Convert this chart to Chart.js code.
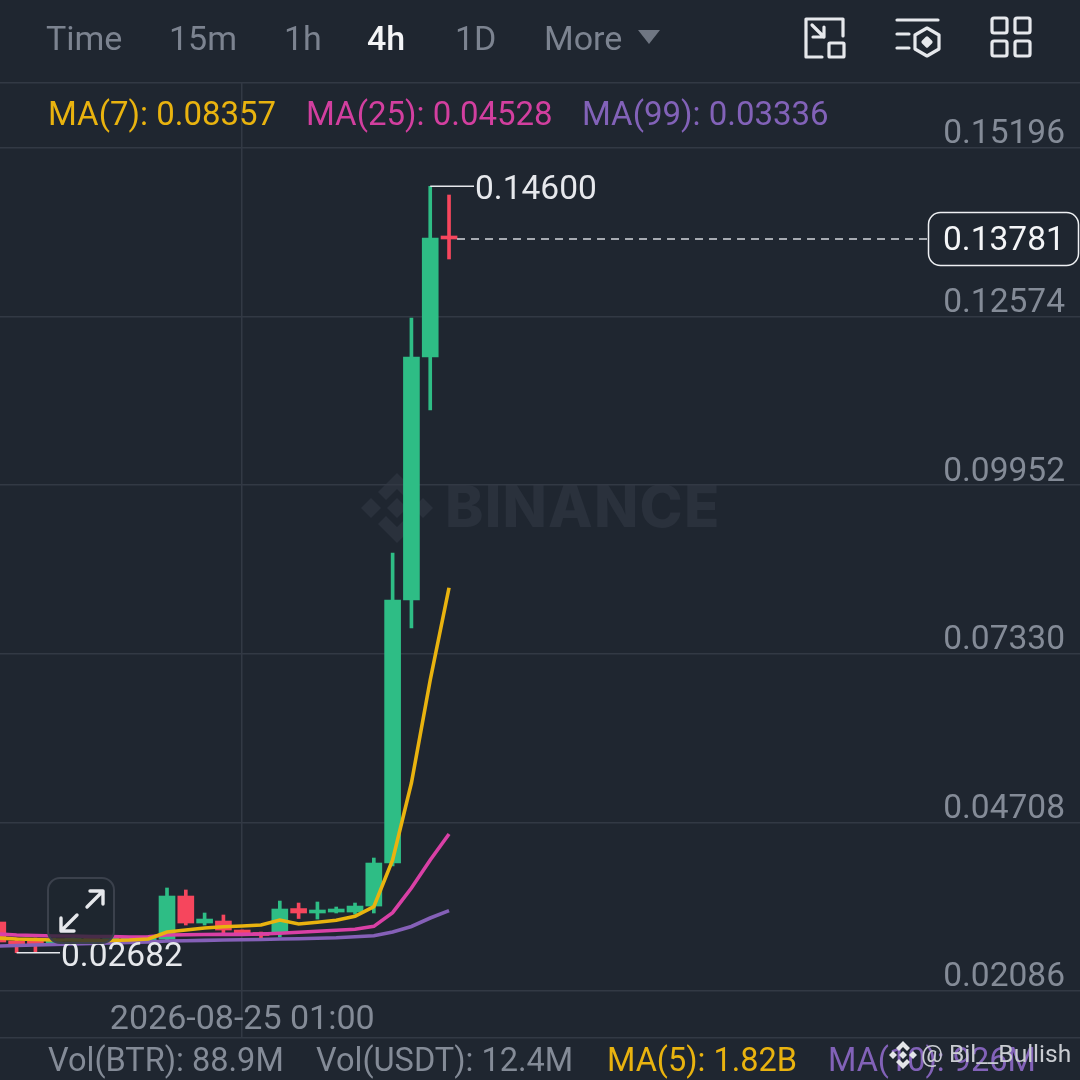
<!DOCTYPE html>
<html lang="en">
<head>
  <meta charset="UTF-8">
  <title>BTR/USDT 4h</title>
  <script src="https://cdn.jsdelivr.net/npm/chart.js"></script>
  <style>
    html, body { margin: 0; padding: 0; background: #1f2630; }
    body { position: relative; width: 1080px; height: 1080px; overflow: hidden; font-family: Roboto, sans-serif; }
    canvas { position: absolute; left: 0; top: 0; z-index: 1; }
    .ui { position: absolute; z-index: 2; white-space: nowrap; line-height: 1; }
    /* Top toolbar */
    .tab { top: 21px; font-size: 34px; color: #7c8390; }
    .tab.active { color: #f4f5f7; font-weight: 500; }
    /* MA legend and volume row */
    .ma { top: 97px; font-size: 33px; }
    .vol { top: 1044px; font-size: 32.5px; color: #848b97; }
    .mark { position: absolute; left: 360px; top: 471px; z-index: 0; }
    .wm-text { position: absolute; left: 445px; top: 473px; z-index: 0; font-family: Inter, sans-serif; font-size: 58px; font-weight: 800;
      letter-spacing: 1.2px; color: #2a313c; line-height: 1.15; }
    .expand { position: absolute; left: 47px; top: 877px; width: 64px; height: 63px; z-index: 2;
      border: 2px solid #3b414c; border-radius: 13px; background: rgba(31,38,48,.78); }
  </style>
</head>
<body>
  <!-- Watermark sits under the canvas -->
  <svg class="mark" width="74" height="74" viewBox="0 0 74 74" fill="#2a313c">
    <path d="M37 2 L56 21 L48 29 L37 18 L26 29 L18 21Z"/>
    <path d="M37 72 L56 53 L48 45 L37 56 L26 45 L18 53Z"/>
    <path d="M37 27 L47 37 L37 47 L27 37Z"/>
    <path d="M11 27 L21 37 L11 47 L1 37Z"/>
    <path d="M63 27 L73 37 L63 47 L53 37Z"/>
  </svg>
  <div class="wm-text">BINANCE</div>

  <canvas id="chart" width="1080" height="1080"></canvas>

  <div class="ui tab" style="left:46px">Time</div>
  <div class="ui tab" style="left:169px">15m</div>
  <div class="ui tab" style="left:284px">1h</div>
  <div class="ui tab active" style="left:367px">4h</div>
  <div class="ui tab" style="left:455px">1D</div>
  <div class="ui tab" style="left:544px">More</div>
  <svg class="ui" style="left:638px;top:30px" width="22" height="14"><path d="M0 0H22L11 14Z" fill="#6f7682"/></svg>

  <svg class="ui" style="left:800px;top:12px" width="240" height="50" fill="none" stroke="#e6e8ec" stroke-width="3.2" stroke-linecap="round" stroke-linejoin="round">
    <path d="M43 24V7H6V45H22"/>
    <rect x="29" y="31" width="15" height="14" rx="1"/>
    <path d="M12 13L24 25M13 25H24V15"/>
    <path d="M97 8H138M97 22H109M97 36H109"/>
    <path d="M127 16L139 23V37L127 44L115 37V23Z"/>
    <path d="M127 26L131 30L127 34L123 30Z" fill="#e6e8ec"/>
    <rect x="192" y="6" width="15" height="15" rx="2"/>
    <rect x="215" y="6" width="15" height="15" rx="2"/>
    <rect x="192" y="29" width="15" height="15" rx="2"/>
    <rect x="215" y="29" width="15" height="15" rx="2"/>
  </svg>

  <div class="ui ma" style="left:48px;color:#e9b30f">MA(7): 0.08357</div>
  <div class="ui ma" style="left:306px;color:#d23f9f">MA(25): 0.04528</div>
  <div class="ui ma" style="left:582px;color:#8262b8">MA(99): 0.03336</div>

  <div class="expand">
    <svg width="64" height="63" fill="none" stroke="#e6e8ec" stroke-width="3.4" stroke-linecap="round" stroke-linejoin="round">
      <path d="M38 28L54 12M41 12H54V25"/>
      <path d="M28 36L12 52M12 39V52H25"/>
    </svg>
  </div>

  <div class="ui vol" style="left:48px">Vol(BTR): 88.9M</div>
  <div class="ui vol" style="left:316px">Vol(USDT): 12.4M</div>
  <div class="ui vol" style="left:607px;color:#e9b30f">MA(5): 1.82B</div>
  <div class="ui vol" style="left:828px;color:#8262b8">MA(10): 926M</div>

  <svg class="ui" style="left:888px;top:1040px" width="30" height="30" fill="#e3e5e8">
    <path d="M15 1L22 8L19 11L15 7L11 11L8 8Z"/>
    <path d="M15 29L22 22L19 19L15 23L11 19L8 22Z"/>
    <path d="M15 11L19 15L15 19L11 15Z"/>
    <path d="M5 11L9 15L5 19L1 15Z"/>
    <path d="M25 11L29 15L25 19L21 15Z"/>
  </svg>
  <div class="ui" style="left:921px;top:1042px;font-size:24.5px;color:#c9ccd1">@ Bil__Bullish</div>

  <script>
    const times = [
      '2026-08-22 21:00', '2026-08-23 01:00', '2026-08-23 05:00', '2026-08-23 09:00', '2026-08-23 13:00',
      '2026-08-23 17:00', '2026-08-23 21:00', '2026-08-24 01:00', '2026-08-24 05:00', '2026-08-24 09:00',
      '2026-08-24 13:00', '2026-08-24 17:00', '2026-08-24 21:00', '2026-08-25 01:00', '2026-08-25 05:00',
      '2026-08-25 09:00', '2026-08-25 13:00', '2026-08-25 17:00', '2026-08-25 21:00', '2026-08-26 01:00',
      '2026-08-26 05:00', '2026-08-26 09:00', '2026-08-26 13:00', '2026-08-26 17:00', '2026-08-26 21:00'
    ];
    const opens = [0.03159, 0.02848, 0.02848, 0.02817, 0.02863, 0.02894, 0.02863, 0.02879, 0.02863, 0.02894,
      0.03563, 0.03143, 0.03174, 0.03034, 0.02972, 0.02988, 0.03368, 0.03299, 0.03314, 0.03314,
      0.03407, 0.04076, 0.08167, 0.11946, 0.13797];
    const highs = [0.03174, 0.02910, 0.02910, 0.02910, 0.02925, 0.02910, 0.02910, 0.02925, 0.02941, 0.03688,
      0.03657, 0.03299, 0.03268, 0.03034, 0.03003, 0.03485, 0.03454, 0.03470, 0.03392, 0.03454,
      0.04154, 0.08898, 0.12553, 0.14600, 0.14465];
    const lows = [0.02832, 0.02682, 0.02692, 0.02801, 0.02848, 0.02848, 0.02848, 0.02863, 0.02848, 0.02863,
      0.03112, 0.03112, 0.02972, 0.02972, 0.02894, 0.02925, 0.03213, 0.03205, 0.03299, 0.03283,
      0.03299, 0.04030, 0.07731, 0.11122, 0.13470];
    const closes = [0.02848, 0.02817, 0.02817, 0.02879, 0.02894, 0.02863, 0.02879, 0.02894, 0.02925, 0.03563,
      0.03143, 0.03205, 0.03034, 0.02972, 0.02949, 0.03361, 0.03299, 0.03345, 0.03361, 0.03407,
      0.04076, 0.08167, 0.11946, 0.13797, 0.13781];
    const ma7 = [0.02910, 0.02894, 0.02886, 0.02879, 0.02879, 0.02871, 0.02871, 0.02879, 0.02894, 0.03003,
      0.03034, 0.03065, 0.03085, 0.03096, 0.03112, 0.03190, 0.03128, 0.03155, 0.03186, 0.03248,
      0.03397, 0.04123, 0.05321, 0.06923, 0.08357];
    const ma25 = [0.02972, 0.02956, 0.02949, 0.02941, 0.02941, 0.02933, 0.02933, 0.02925, 0.02930, 0.02956,
      0.02961, 0.02964, 0.02966, 0.02967, 0.02972, 0.02983, 0.02999, 0.03014, 0.03030, 0.03045,
      0.03091, 0.03304, 0.03688, 0.04123, 0.04528];
    const ma99 = [0.02785, 0.02793, 0.02801, 0.02809, 0.02817, 0.02824, 0.02832, 0.02840, 0.02848, 0.02863,
      0.02868, 0.02873, 0.02879, 0.02884, 0.02888, 0.02894, 0.02899, 0.02907, 0.02915, 0.02930,
      0.02946, 0.03003, 0.03089, 0.03221, 0.03336];
    const priceTicks = [0.16207, 0.15196, 0.12574, 0.09952, 0.07330, 0.04708, 0.02086, 0.01355];
    const timeTicks = [13];

    const UP = '#2ebd85';
    const DOWN = '#f6465d';
    const GRID = '#323944';
    const AXIS_TEXT = '#848b97';
    const FONT = 'Roboto, sans-serif';

    const candleColors = opens.map((o, i) => closes[i] >= o ? UP : DOWN);

    // Extreme markers and the live price tag
    const annotations = {
      id: 'annotations',
      afterDatasetsDraw(chart) {
        const { ctx, scales: { x, y } } = chart;
        const hi = highs.indexOf(Math.max(...highs));
        const lo = lows.indexOf(Math.min(...lows));
        const last = closes[closes.length - 1];
        ctx.save();
        ctx.font = '33.5px ' + FONT;
        ctx.textBaseline = 'middle';
        ctx.textAlign = 'left';
        ctx.strokeStyle = '#e6e8ec';
        ctx.fillStyle = '#e6e8ec';
        ctx.lineWidth = 1.5;

        ctx.beginPath();
        ctx.moveTo(x.getPixelForValue(hi), y.getPixelForValue(highs[hi]));
        ctx.lineTo(474, y.getPixelForValue(highs[hi]));
        ctx.moveTo(x.getPixelForValue(lo), y.getPixelForValue(lows[lo]));
        ctx.lineTo(60, y.getPixelForValue(lows[lo]));
        ctx.stroke();
        ctx.fillText(highs[hi].toFixed(5), 475, y.getPixelForValue(highs[hi]) + 4);
        ctx.fillText(lows[lo].toFixed(5), 61, y.getPixelForValue(lows[lo]) + 5);

        const py = y.getPixelForValue(last);
        ctx.setLineDash([8, 6]);
        ctx.strokeStyle = '#d5d8dd';
        ctx.beginPath();
        ctx.moveTo(x.getPixelForValue(closes.length - 1) + 8, py);
        ctx.lineTo(928, py);
        ctx.stroke();
        ctx.setLineDash([]);

        ctx.beginPath();
        ctx.roundRect(928.5, py - 26.5, 150, 53, 12);
        ctx.fillStyle = '#1f2630';
        ctx.fill();
        ctx.strokeStyle = '#eef0f3';
        ctx.stroke();
        ctx.fillStyle = '#f4f5f7';
        ctx.fillText(last.toFixed(5), 943, py + 3);
        ctx.restore();
      }
    };

    new Chart(document.getElementById('chart'), {
      type: 'bar',
      data: {
        datasets: [
          {
            label: 'MA(7)', type: 'line', order: 1, borderColor: '#e9b30f',
            data: ma7.map((v, i) => ({ x: i, y: v })), borderWidth: 3.6, pointRadius: 0, tension: 0
          },
          {
            label: 'MA(25)', type: 'line', order: 2, borderColor: '#d940a6',
            data: ma25.map((v, i) => ({ x: i, y: v })), borderWidth: 3.6, pointRadius: 0, tension: 0
          },
          {
            label: 'MA(99)', type: 'line', order: 3, borderColor: '#8560b8',
            data: ma99.map((v, i) => ({ x: i, y: v })), borderWidth: 3.6, pointRadius: 0, tension: 0
          },
          {
            label: 'body', order: 4, grouped: false, barThickness: 16, minBarLength: 3,
            backgroundColor: candleColors,
            data: opens.map((o, i) => ({ x: i, y: [o, closes[i]] }))
          },
          {
            label: 'wick', order: 5, grouped: false, barThickness: 3,
            backgroundColor: candleColors,
            data: highs.map((h, i) => ({ x: i, y: [lows[i], h] }))
          }
        ]
      },
      options: {
        responsive: false,
        animation: false,
        layout: { padding: { top: 83, bottom: 42 } },
        plugins: { legend: { display: false }, tooltip: { enabled: false } },
        scales: {
          x: {
            type: 'linear',
            offset: false,
            min: 0.117,
            max: 57.56,
            afterBuildTicks: s => { s.ticks = timeTicks.map(v => ({ value: v })); },
            afterFit: s => { s.height = 0; },
            border: { display: false },
            grid: { color: GRID, lineWidth: 1.5, drawTicks: false, offset: false },
            ticks: {
              mirror: true, // skips the label clip, the axis has no height
              autoSkip: false,
              maxRotation: 0,
              padding: -3,
              color: AXIS_TEXT,
              font: { family: FONT, size: 34 },
              callback: v => times[v]
            }
          },
          y: {
            position: 'right',
            min: 0.01355,
            max: 0.16207,
            afterBuildTicks: s => { s.ticks = priceTicks.map(v => ({ value: v })); },
            afterFit: s => { s.width = 0; },
            border: { display: false },
            grid: { color: GRID, lineWidth: 1.5, drawTicks: false },
            ticks: {
              mirror: true,
              autoSkip: false,
              padding: -15,
              labelOffset: -13,
              color: AXIS_TEXT,
              font: { family: FONT, size: 33.5 },
              callback: v => (v === priceTicks[0] || v === priceTicks[priceTicks.length - 1]) ? '' : v.toFixed(5)
            }
          }
        }
      },
      plugins: [annotations]
    });
  </script>
</body>
</html>
